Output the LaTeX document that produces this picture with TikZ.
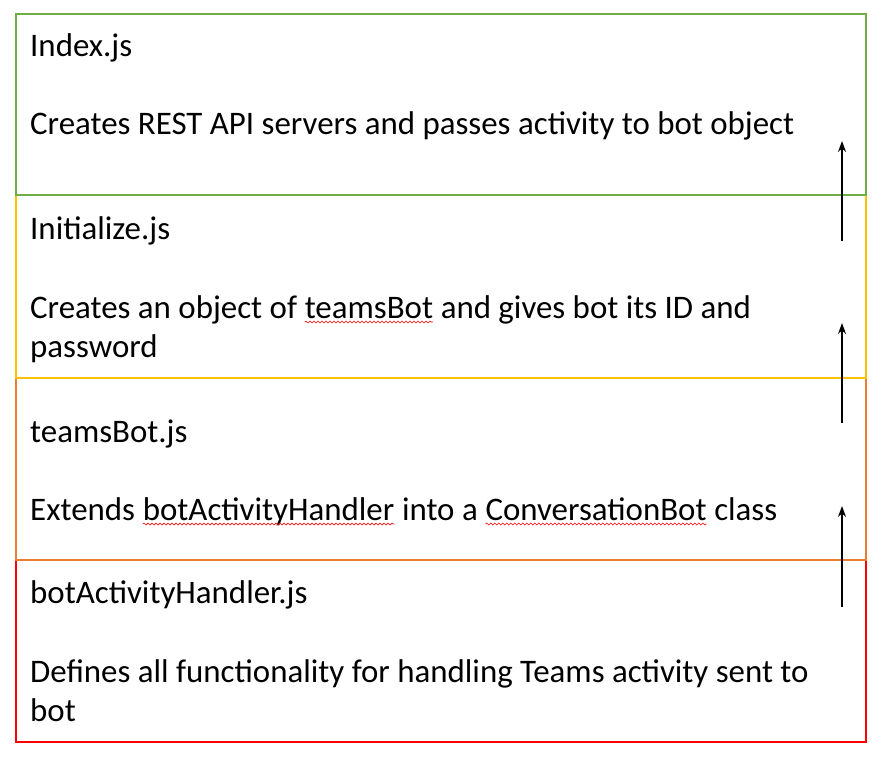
\documentclass[tikz,border=0pt]{standalone}
\usepackage{fontspec}
\setmainfont{Carlito}
\usetikzlibrary{arrows.meta,decorations.pathmorphing}
\definecolor{boxgreen}{HTML}{70AD47}
\definecolor{boxyellow}{HTML}{FFC000}
\definecolor{boxorange}{HTML}{ED7D31}
\definecolor{boxred}{HTML}{FF0000}
\newcommand\spell[1]{\tikz[baseline=(w.base),x=1pt,y=1pt]{\node[inner sep=0pt,outer sep=0pt](w){#1};
    \draw[red,line width=0.6pt,decorate,decoration={snake,amplitude=1pt,segment length=4pt}] ([yshift=-4pt]w.base west)--([yshift=-4pt]w.base east);}}
\begin{document}
\begin{tikzpicture}[x=1pt,y=-1pt,
    txt/.style={anchor=base west,inner sep=0pt,font=\fontsize{32.9}{39}\selectfont},
    up/.style={-{Stealth[length=11pt,width=8pt]},line width=1.6pt}]
    \useasboundingbox (0,0) rectangle (883,757);
    % boxes, drawn bottom first
    \draw[boxred,line width=1.2pt] (16,560) rectangle (866,742);
    \draw[boxorange,line width=1.2pt] (16,378) rectangle (866,560);
    \draw[boxyellow,line width=1.2pt] (16,195) rectangle (866,378);
    \draw[boxgreen,line width=1.2pt] (16,14) rectangle (866,195);
    % texts
    \node[txt] (index) at (30,57) {Index.js};
    \node[txt] (indexd) at (30,135) {Creates REST API servers and passes activity to bot object};
    \node[txt] (init) at (30,239) {Initialize.js};
    \node[txt] (initd) at (30,318) {Creates an object of \spell{teamsBot} and gives bot its ID and};
    \node[txt] (initd2) at (30,357) {password};
    \node[txt] (teams) at (30,442) {teamsBot.js};
    \node[txt] (teamsd) at (30,520) {Extends \spell{botActivityHandler} into a \spell{ConversationBot} class};
    \node[txt] (handler) at (30,603) {botActivityHandler.js};
    \node[txt] (handlerd) at (30,682) {Defines all functionality for handling Teams activity sent to};
    \node[txt] (handlerd2) at (30,721) {bot};
    % arrows
    \coordinate (a1) at (842,241); \coordinate (b1) at (842,141);
    \coordinate (a2) at (842,423); \coordinate (b2) at (842,323);
    \coordinate (a3) at (842,607); \coordinate (b3) at (842,506);
    \draw[up] (a1) -- (b1);
    \draw[up] (a2) -- (b2);
    \draw[up] (a3) -- (b3);
\end{tikzpicture}
\end{document}
